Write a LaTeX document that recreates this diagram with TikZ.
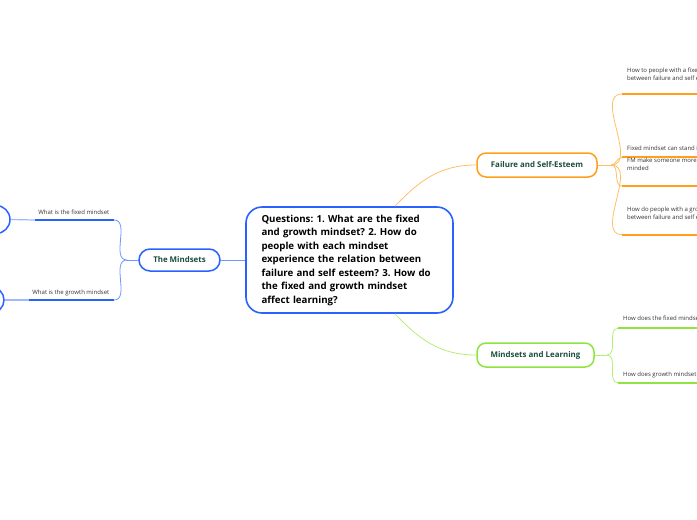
\documentclass[tikz,border=0pt]{standalone}
\usepackage{fontspec}
\setmainfont{Open Sans}
\definecolor{bl}{HTML}{2962FF}
\definecolor{bll}{HTML}{6F95FF}
\definecolor{blxl}{HTML}{9DB8FF}
\definecolor{orn}{HTML}{FF9F1C}
\definecolor{orl}{HTML}{FFBF66}
\definecolor{grn}{HTML}{8EE53F}
\definecolor{grl}{HTML}{B4EE78}
\definecolor{tx}{HTML}{1B4D3E}
\definecolor{lf}{HTML}{333333}
\begin{document}
\frenchspacing
\begin{tikzpicture}[x=1pt,y=-1pt,
  topic/.style={draw, rounded corners=9pt, line width=1.5pt, fill=white,
    font=\bfseries\fontsize{7.9}{9}\selectfont, text=tx, inner sep=0pt, align=center},
  leaf/.style={inner sep=0pt, font=\fontsize{6}{8.6}\selectfont, text=lf, align=left},
  conn/.style={line width=0.8pt},
  uline/.style={line width=2pt},
  bub/.style={circle, draw=bl, line width=1.5pt, inner sep=0pt}]
\useasboundingbox (0,0) rectangle (697,520);
\clip (0,0) rectangle (697,520);

% central topic
\node[draw=bl, line width=1.6pt, rounded corners=16pt, fill=white, text width=176pt,
  inner xsep=15.5pt, inner ysep=0pt, minimum height=106pt,
  font=\bfseries\fontsize{9.7}{13.5}\selectfont, align=left] (ctr) at (349.5,260)
  {Questions: 1. What are the fixed\\and growth mindset? 2. How do\\people with each mindset\\experience the relation between\\failure and self esteem? 3. How do\\the fixed and growth mindset\\affect learning?};

% main topics
\node[topic, draw=orn, minimum width=120pt, minimum height=24pt] (fail) at (537,165) {Failure and Self-Esteem};
\node[topic, draw=grn, minimum width=117pt, minimum height=24pt] (learn) at (535.5,355) {Mindsets and Learning};
\node[topic, draw=bl, rounded corners=11pt, minimum width=81pt, minimum height=22pt] (mind) at (179.5,260) {The Mindsets};

% central connectors
\draw[orl, conn] ([xshift=45.5pt]ctr.north) .. controls (420,180) and (440,165) .. (fail.west);
\draw[grl, conn] ([xshift=45.5pt]ctr.south) .. controls (420,340) and (440,355) .. (learn.west);
\draw[bll, conn] (ctr.west) -- (mind.east);

% ---------- Failure and Self-Esteem leaves
\coordinate (fj) at (611,165);
\draw[orl, conn] (fail.east) -- (fj);
\coordinate (r1) at (622,94);
\coordinate (r2) at (622,157.3);
\coordinate (r3) at (622,186);
\coordinate (r4) at (622,234.7);
\coordinate (r1e) at (700,94);
\coordinate (r2e) at (700,157.3);
\coordinate (r3e) at (700,186);
\coordinate (r4e) at (700,234.7);
\foreach \r in {r1,r2,r3,r4}{
  \draw[orl, conn] (fj) to[out=0,in=180] (\r);
  \draw[orn, uline] (\r) -- (\r e);
}
\node[leaf, anchor=base west] (t1) at (627,80.8) {How to people with a fixe\\between failure and self e};
\node[leaf, anchor=base west] (t2) at (627,150.8) {Fixed mindset can stand i};
\node[leaf, anchor=base west] (t3) at (627,170.8) {FM make someone more\\minded};
\node[leaf, anchor=base west] (t4) at (627,219.8) {How do people with a gro\\between failure and self e};

% ---------- Mindsets and Learning leaves
\coordinate (gj) at (607,355);
\draw[grl, conn] (learn.east) -- (gj);
\coordinate (g1) at (618,328.3);
\coordinate (g2) at (618,382.7);
\coordinate (g1e) at (700,328.3);
\coordinate (g2e) at (700,382.7);
\foreach \g in {g1,g2}{
  \draw[grl, conn] (gj) to[out=0,in=180] (\g);
  \draw[grn, uline] (\g) -- (\g e);
}
\node[leaf, anchor=base west] (u1) at (623,320.8) {How does the fixed mindse};
\node[leaf, anchor=base west] (u2) at (623,376.5) {How does growth mindset};

% ---------- The Mindsets leaves
\coordinate (mj) at (127,260);
\draw[bll, conn] (mind.west) -- (mj);
\coordinate (l1) at (114,220);
\coordinate (l2) at (114,300);
\coordinate (l1s) at (35,220);
\coordinate (l2s) at (29,300);
\draw[bll, conn] (mj) to[out=180,in=0] (l1);
\draw[bll, conn] (mj) to[out=180,in=0] (l2);
\draw[bl, uline] (l1) -- (l1s);
\draw[bl, uline] (l2) -- (l2s);
\node[leaf, anchor=base east] (v1) at (109.5,214.2) {What is the fixed mindset};
\node[leaf, anchor=base east] (v2) at (109.5,294.2) {What is the growth mindset};

\node[bub, minimum size=28pt] (c1) at (-4,219.5) {};
\node[bub, minimum size=26pt] (c2) at (-9,300) {};
\draw[blxl, line width=1.2pt] (c1.east) -- (l1s);
\draw[blxl, line width=1.2pt] (c2.east) -- (l2s);
\end{tikzpicture}
\end{document}
